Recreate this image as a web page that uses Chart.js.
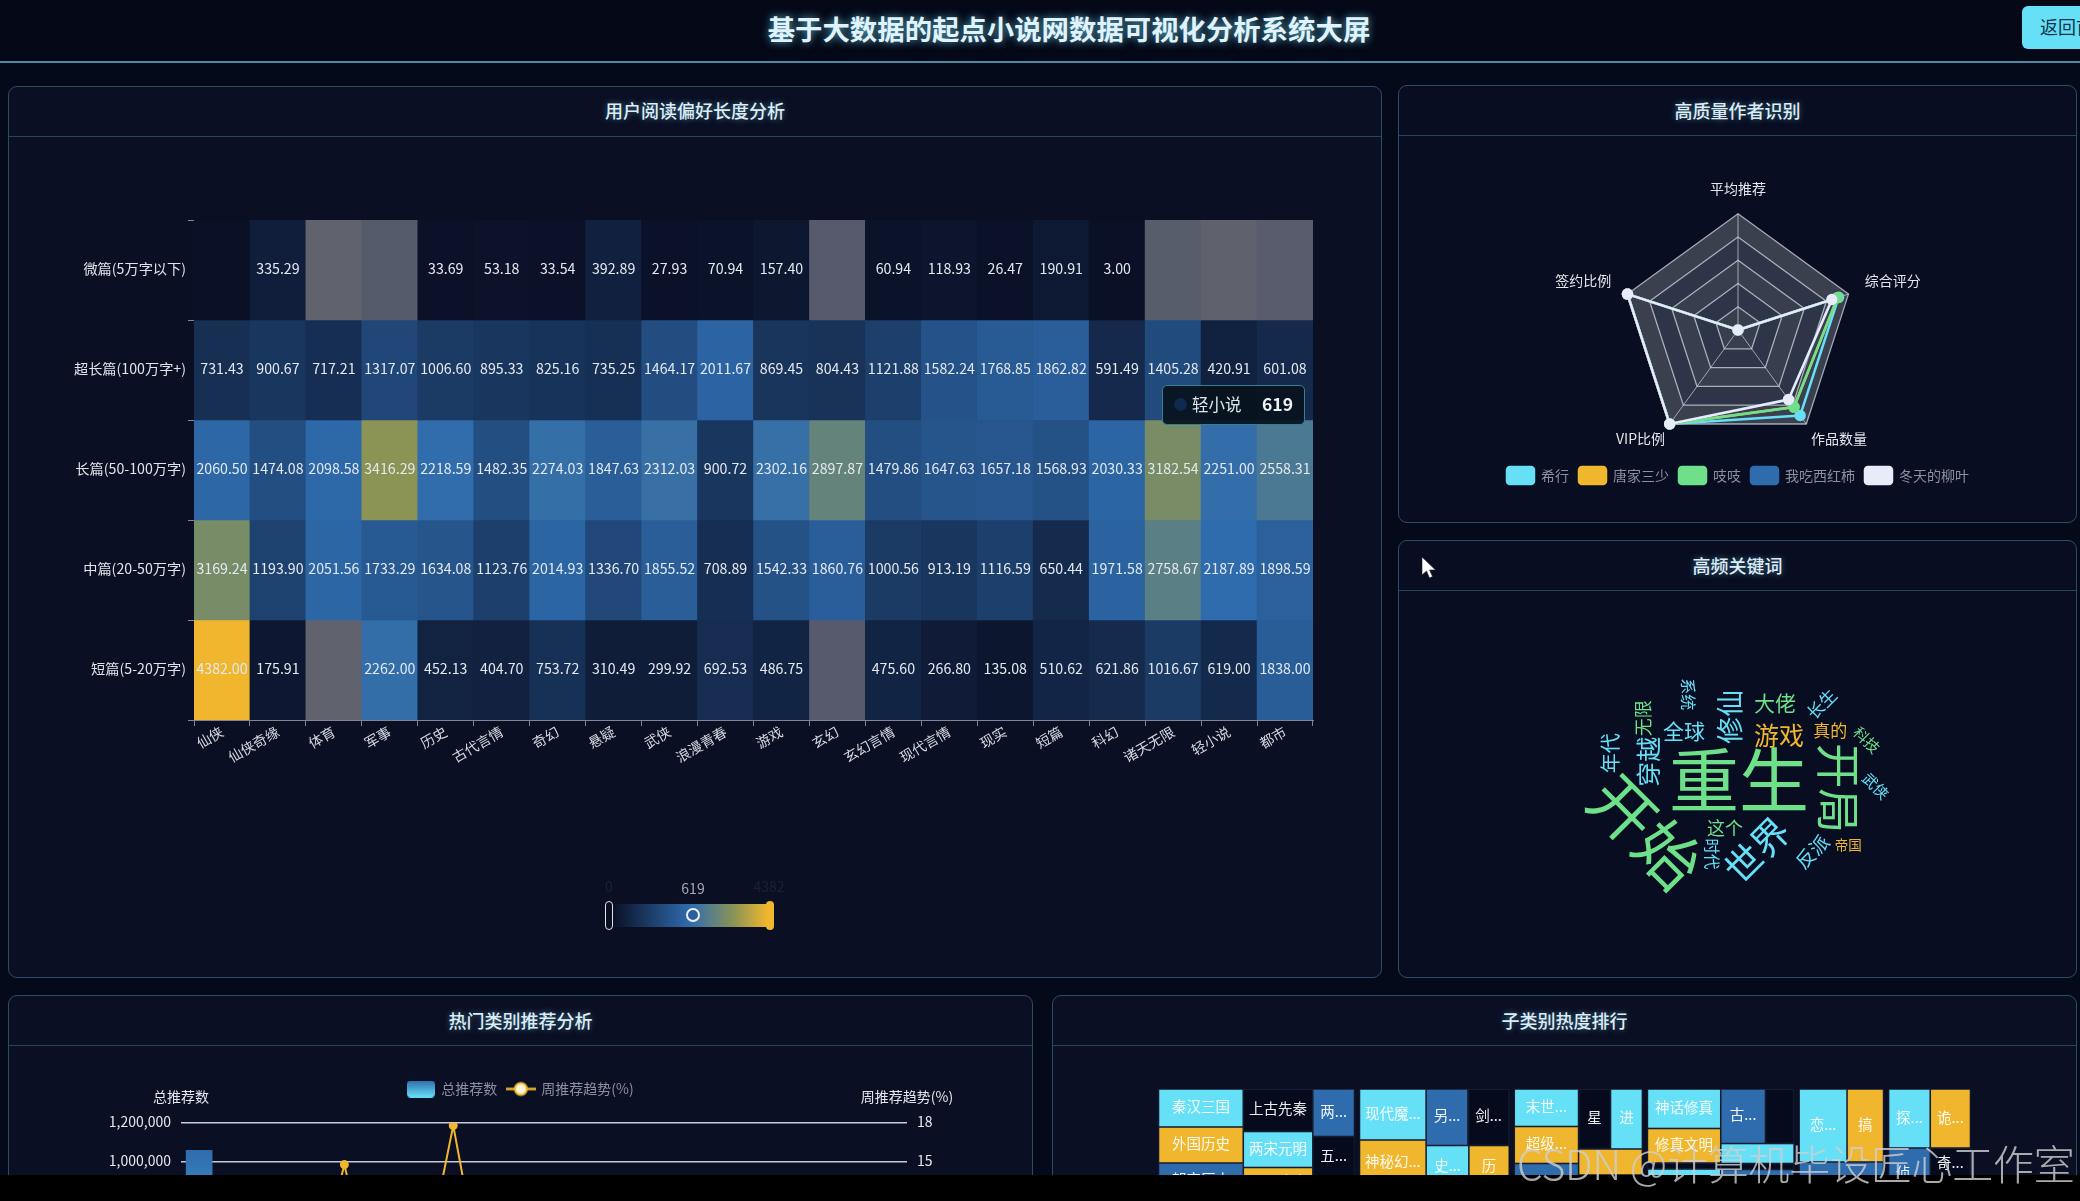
<!DOCTYPE html>
<html lang="zh-CN">
<head>
<meta charset="utf-8">
<title>基于大数据的起点小说网数据可视化分析系统大屏</title>
<script src="https://cdn.jsdelivr.net/npm/chart.js@4/dist/chart.umd.min.js"></script>
<style>
html,body{margin:0;padding:0;width:2080px;height:1201px;overflow:hidden;background:#050a1b;font-family:"Noto Sans CJK SC","Noto Sans",sans-serif;}
#stage{position:absolute;left:0;top:0;width:2080px;height:1201px;overflow:hidden;}
.abs{position:absolute;}
#header{left:0;top:0;width:2080px;background:#040817;border-bottom:2px solid #4f8aa0;box-sizing:border-box;height:63px;}
#mainTitle{left:0;top:3.5px;width:2138px;text-align:center;font-size:27.4px;line-height:48px;font-weight:700;color:#e0f3fc;text-shadow:0 0 9px rgba(110,215,240,.8);white-space:nowrap;}
#backBtn{left:2022px;top:6px;width:120px;height:43px;line-height:41px;background:#66e0f7;border-radius:6px;color:#12324a;font-size:18px;padding-left:18px;box-sizing:border-box;white-space:nowrap;}
.panel{position:absolute;box-sizing:border-box;background:#0a0f24;border:1.5px solid #2b4d62;border-radius:9px;}
.panel .ttl{position:absolute;left:0;right:0;text-align:center;font-size:18px;font-weight:500;color:#dcedf5;text-shadow:0 0 6px rgba(120,205,235,.5);line-height:49px;height:49px;border-bottom:1.5px solid #26455a;top:0;white-space:nowrap;}
canvas{position:absolute;display:block;}
#band{left:0;top:1175px;width:2080px;height:26px;background:#000;z-index:5;}
#mark{left:1517px;top:1137.5px;font-size:41px;line-height:48px;color:rgba(206,206,206,.82);white-space:nowrap;z-index:6;font-family:"Noto Sans CJK SC",sans-serif;font-weight:300;letter-spacing:-.25px;}
#tip{left:1162px;top:385px;width:143px;height:40px;box-sizing:border-box;background:rgba(8,18,30,.93);border:1.5px solid #35808f;border-radius:5px;z-index:4;}
#tip i{position:absolute;left:11px;top:12px;width:13px;height:13px;border-radius:50%;background:#10294f;}
#tip span{position:absolute;top:0;line-height:36px;font-size:16.5px;color:#dfe5ea;white-space:nowrap;}
#tip b{position:absolute;top:0;line-height:36px;font-size:17.5px;color:#eef2f5;right:11px;}
.vm{font-size:14px;line-height:18px;transform:translateX(-50%);white-space:nowrap;}
</style>
</head>
<body>
<div id="stage">
  <div id="header" class="abs"></div>
  <div id="mainTitle" class="abs">基于大数据的起点小说网数据可视化分析系统大屏</div>
  <div id="backBtn" class="abs">返回首页</div>

  <div class="panel" style="left:8px;top:86px;width:1374px;height:892px"><div class="ttl" style="line-height:47.5px">用户阅读偏好长度分析</div></div>
  <div class="panel" style="left:1398px;top:85px;width:679px;height:438px;background:#080d22"><div class="ttl">高质量作者识别</div></div>
  <div class="panel" style="left:1398px;top:540px;width:679px;height:438px;background:#080d22"><div class="ttl">高频关键词</div></div>
  <div class="panel" style="left:8px;top:995px;width:1025px;height:400px"><div class="ttl">热门类别推荐分析</div></div>
  <div class="panel" style="left:1052px;top:995px;width:1025px;height:400px"><div class="ttl">子类别热度排行</div></div>

  <canvas id="heat" style="left:8px;top:136px" width="1373" height="840"></canvas>
  <canvas id="radar" style="left:1400px;top:137px" width="676" height="385"></canvas>
  <canvas id="cloud" style="left:1400px;top:592px" width="676" height="384"></canvas>
  <canvas id="combo" style="left:8px;top:1046px" width="1025" height="374"></canvas>
  <canvas id="tree" style="left:1156px;top:1089px" width="817" height="110"></canvas>

  <div id="tip" class="abs"><i></i><span style="left:29px">轻小说</span><b>619</b></div>

  <!-- 视觉映射滑块 -->
  <div class="abs vm" style="left:609px;top:877px;color:rgba(255,255,255,.07)">0</div>
  <div class="abs vm" style="left:693px;top:879px;color:#a3a9b5">619</div>
  <div class="abs vm" style="left:769px;top:877px;color:rgba(255,255,255,.07)">4382</div>
  <div class="abs" id="vmBar" style="left:613px;top:904px;width:155px;height:23px"></div>
  <div class="abs" style="left:605px;top:901px;width:8px;height:29px;box-sizing:border-box;border:1.5px solid #dfe3ea;border-radius:4px;background:#0a0f24"></div>
  <div class="abs" style="left:766px;top:901px;width:8px;height:29px;border-radius:4px;background:#f0b72e"></div>
  <div class="abs" style="left:686px;top:908px;width:14px;height:14px;box-sizing:border-box;border:2.5px solid #eef2f6;border-radius:50%;background:#2a5f9c"></div>

  <!-- 鼠标指针 -->
  <svg class="abs" style="left:1421px;top:556px;z-index:4" width="18" height="24" viewBox="0 0 18 24"><path d="M1 1 L1 19 L5.5 15 L8.5 22 L11.5 20.6 L8.6 14 L14.5 14 Z" fill="#fff" stroke="#222" stroke-width=".6"/></svg>

  <div id="band" class="abs"></div>
  <div id="mark" class="abs">CSDN @计算机毕设匠心工作室</div>
</div>

<script>
/* ---------- 数据 ---------- */
const genres = ['仙侠','仙侠奇缘','体育','军事','历史','古代言情','奇幻','悬疑','武侠','浪漫青春','游戏','玄幻','玄幻言情','现代言情','现实','短篇','科幻','诸天无限','轻小说','都市'];
const lengthBands = ['微篇(5万字以下)','超长篇(100万字+)','长篇(50-100万字)','中篇(20-50万字)','短篇(5-20万字)'];
const microValues  = [0,335.29,null,null,33.69,53.18,33.54,392.89,27.93,70.94,157.40,null,60.94,118.93,26.47,190.91,3.00,null,null,null];
const epicValues   = [731.43,900.67,717.21,1317.07,1006.60,895.33,825.16,735.25,1464.17,2011.67,869.45,804.43,1121.88,1582.24,1768.85,1862.82,591.49,1405.28,420.91,601.08];
const longValues   = [2060.50,1474.08,2098.58,3416.29,2218.59,1482.35,2274.03,1847.63,2312.03,900.72,2302.16,2897.87,1479.86,1647.63,1657.18,1568.93,2030.33,3182.54,2251.00,2558.31];
const mediumValues = [3169.24,1193.90,2051.56,1733.29,1634.08,1123.76,2014.93,1336.70,1855.52,708.89,1542.33,1860.76,1000.56,913.19,1116.59,650.44,1971.58,2758.67,2187.89,1898.59];
const shortValues  = [4382.00,175.91,null,2262.00,452.13,404.70,753.72,310.49,299.92,692.53,486.75,null,475.60,266.80,135.08,510.62,621.86,1016.67,619.00,1838.00];
const heatRows = [microValues,epicValues,longValues,mediumValues,shortValues];
const heatMax = 4382;

const radarAxes = ['平均推荐','综合评分','作品数量','VIP比例','签约比例'];
const authors = ['希行','唐家三少','吱吱','我吃西红柿','冬天的柳叶'];
const xiXing   = [0,0.91,0.91,1,1];
const tangJia  = [0,0.90,0.82,1,1];
const ziZi     = [0,0.90,0.82,1,1];
const woChi    = [0,0.85,0.74,1,1];
const dongTian = [0,0.85,0.74,1,1];

const keywords = ['重生','开局','开始','世界','修仙','大佬','游戏','全球','真的','长生','系统','穿越','无限','年代','科技','武侠','这个','时代','反派','帝国'];
const keywordCounts = [700,450,640,370,270,210,250,210,170,170,160,250,180,200,150,150,180,155,190,135];

const totalRecommend = [1060000,905000,860000,790000,740000,700000,660000,620000,590000,540000,500000,470000,430000,390000,350000,310000,260000,210000,160000,110000];
const weeklyTrend    = [2.6,3.1,2.2,3.4,14.8,2.9,4.0,17.8,2.8,2.1,3.2,1.8,2.4,1.6,2.7,1.3,1.9,1.1,1.4,0.9];

const subNames  = ['秦汉三国','外国历史','架空历史','上古先秦','两宋元明','两晋隋唐','两...','五...','',
                   '现代魔...','神秘幻...','','另...','剑...','史...','历','',
                   '末世...','超级...','','星','进','','',
                   '神话修真','修真文明','','','古...','','','','',
                   '恋...','搞','',
                   '探...','诡...','侦...','奇...',''];
const subValues = [3287,3114,3114,3018,2556,2237,2019,1743,914,
                   3494,3151,891,2430,2401,1892,1785,898,
                   2494,2461,2361,1980,1980,1716,1584,
                   2982,2605,453,2265,2507,1608,1510,453,2227,
                   3687,2811,3293,
                   2596,2508,2244,1318,850];

/* ---------- 样式与布局 ---------- */
const FONT = '"Noto Sans CJK SC","Noto Sans",sans-serif';
const CYAN='#66e0f7', GOLD='#f0b72e', GREEN='#6fe08a', BLUE='#2f6cae', PALE='#e8ecf8', DARK='#050a1c';
const RAMP=[[0,[10,16,38]],[.5,[47,108,174]],[.78,[139,148,85]],[1,[240,183,46]]];
const GRAY_TONES={2:'#60636e',3:'#565b6c',11:'#565a6c',17:'#585d6c',18:'#5f616d',19:'#585c6c'};
Chart.defaults.animation=false;
Chart.defaults.font.family=FONT;
Chart.defaults.devicePixelRatio=1;
document.getElementById('vmBar').style.background='linear-gradient(90deg,'+RAMP.map(s=>`rgb(${s[1]}) ${s[0]*100}%`).join(',')+')';

function heatColor(v,col){
  if(v===null) return GRAY_TONES[col];
  const t=v/heatMax; let k=0; while(k<RAMP.length-2&&t>RAMP[k+1][0]) k++;
  const [t0,a]=RAMP[k],[t1,b]=RAMP[k+1],f=(t-t0)/(t1-t0);
  return `rgb(${a.map((c,i)=>Math.round(c+(b[i]-c)*f)).join(',')})`;
}

/* ---------- 热力图 ---------- */
const heatLabels={id:'heatLabels',afterDatasetsDraw(chart){
  const c=chart.ctx; c.save(); c.font='14.2px '+FONT; c.textAlign='center'; c.textBaseline='middle'; c.fillStyle='#e4e9f0';
  heatRows.forEach((row,r)=>{const m=chart.getDatasetMeta(r);
    row.forEach((v,i)=>{ if(!v) return; const p=m.data[i].getProps(['x','y','base'],true);
      c.fillText(v.toFixed(2),p.x,(p.y+p.base)/2-1.5); });});
  c.restore();
}};
new Chart(document.getElementById('heat'),{
  type:'bar',
  data:{labels:genres,datasets:heatRows.map((row,r)=>({
    label:lengthBands[r],data:row.map(()=>[r,r+1]),yAxisID:'y',grouped:false,
    barPercentage:1,categoryPercentage:1,borderWidth:0,borderSkipped:false,
    backgroundColor:ctx=>heatColor(row[ctx.dataIndex],ctx.dataIndex)
  }))},
  options:{responsive:false,
    layout:{autoPadding:false,padding:{left:0,right:68,top:84,bottom:0}},
    plugins:{legend:{display:false},tooltip:{enabled:false}},
    scales:{
      x:{type:'category',offset:true,grid:{offset:true,drawOnChartArea:false,tickLength:6,color:'#7d8597'},border:{color:'#7d8597'},
         ticks:{minRotation:30,maxRotation:30,autoSkip:false,color:'#d3d8e0',font:{size:14},padding:-3},
         afterFit(s){s.height=256;}},
      y:{type:'linear',min:0,max:5,reverse:true,display:false},
      yCat:{type:'category',labels:lengthBands,position:'left',offset:true,grid:{offset:true,drawOnChartArea:false,tickLength:6,color:'#7d8597'},border:{color:'#7d8597'},
         ticks:{color:'#dfe4ea',font:{size:14.2},padding:2,autoSkip:false,labelOffset:-1.5},
         afterFit(s){s.width=186;}}
    }},
  plugins:[heatLabels]
});

/* ---------- 雷达图 ---------- */
const radarBands={id:'radarBands',beforeDraw(chart){
  const s=chart.scales.r,c=chart.ctx,n=radarAxes.length;
  [[1,'#3b404f'],[.8,'#2e3548'],[.6,'#393e4e'],[.4,'#2e3548'],[.2,'#393e4e']].forEach(([v,col])=>{
    c.beginPath();
    for(let i=0;i<n;i++){const p=s.getPointPositionForValue(i,v); i?c.lineTo(p.x,p.y):c.moveTo(p.x,p.y);}
    c.closePath(); c.fillStyle=col; c.fill();
  });
}};
const authorSeries=[xiXing,tangJia,ziZi,woChi,dongTian];
const authorColors=[CYAN,GOLD,GREEN,BLUE,PALE];
const radarChart=new Chart(document.getElementById('radar'),{
  type:'radar',
  data:{labels:radarAxes,datasets:authors.map((a,i)=>({
    label:a,data:authorSeries[i],order:authors.length-i,
    borderColor:authorColors[i],backgroundColor:authorColors[i],pointBackgroundColor:authorColors[i],pointBorderColor:authorColors[i],
    borderWidth:2.5,pointRadius:4.5,fill:false
  }))},
  options:{responsive:false,
    layout:{padding:{top:27,bottom:21,left:0,right:0}},
    plugins:{tooltip:{enabled:false},legend:{position:'bottom',labels:{boxWidth:27,boxHeight:17,padding:10,color:'#8b90a0',font:{size:14},useBorderRadius:true,borderRadius:3,sort:(a,b)=>a.datasetIndex-b.datasetIndex}}},
    scales:{r:{min:0,max:1,beginAtZero:true,
      ticks:{display:false,stepSize:.2},
      grid:{circular:false,color:'rgba(215,220,232,.72)',lineWidth:1.3},
      angleLines:{color:'rgba(205,210,222,.7)',lineWidth:1},
      pointLabels:{color:'#e2e5ea',font:{size:14},padding:ctx=>(ctx.index===2||ctx.index===3)?8:17}}}},
  plugins:[radarBands]
});
{const lg=radarChart.legend,d=lg.draw; lg.draw=function(){const c=this.ctx;c.save();c.translate(0,-7);d.call(this);c.restore();}; radarChart.update('none');}

/* ---------- 词云（位置单独成表） ---------- */
const cloudPlacement=[[339,188.7,0,1],[438.3,196.3,90,1],[246,239.7,45,1],[356.7,258,-45,0],[330,124.7,-90,0],[375,111.3,0,1],[379,143,0,2],[284,138.7,0,0],[430.3,139,0,2],[421.7,112,-45,0],[288.3,102.3,90,0],[248.3,169.7,-90,0],[242.7,126.3,-90,1],[210.7,161.3,-90,0],[466.7,148,45,1],[475.7,194,45,0],[325,235.7,0,1],[311.7,262,90,0],[412.3,259.7,-45,0],[448.3,253,0,2]];
const cloudColors=[CYAN,GREEN,GOLD];
const cloudText={id:'cloudText',afterDatasetsDraw(chart){
  const c=chart.ctx,m=chart.getDatasetMeta(0);
  m.data.forEach((pt,i)=>{
    c.save(); c.translate(pt.x,pt.y); c.rotate(cloudPlacement[i][2]*Math.PI/180);
    c.font=(keywordCounts[i]/10)+'px '+FONT; c.textAlign='center'; c.textBaseline='middle';
    c.fillStyle=cloudColors[cloudPlacement[i][3]]; c.fillText(keywords[i],0,0); c.restore();
  });
}};
new Chart(document.getElementById('cloud'),{
  type:'scatter',
  data:{labels:keywords,datasets:[{data:cloudPlacement.map(p=>({x:p[0],y:p[1]})),pointRadius:0}]},
  options:{responsive:false,layout:{autoPadding:false,padding:0},plugins:{legend:{display:false},tooltip:{enabled:false}},
    scales:{x:{type:'linear',min:0,max:676,display:false},y:{type:'linear',min:0,max:384,reverse:true,display:false}}},
  plugins:[cloudText]
});

/* ---------- 柱线组合 ---------- */
function swatch(w,h,draw){const k=document.createElement('canvas');k.width=w;k.height=h;draw(k.getContext('2d'));return k;}
const barIcon=swatch(28,17,x=>{const g=x.createLinearGradient(0,0,0,17);g.addColorStop(0,BLUE);g.addColorStop(1,CYAN);x.fillStyle=g;x.beginPath();x.roundRect(0,0,28,17,4);x.fill();});
const lineIcon=swatch(30,17,x=>{x.strokeStyle=GOLD;x.lineWidth=2.5;x.beginPath();x.moveTo(0,8.5);x.lineTo(30,8.5);x.stroke();x.beginPath();x.arc(15,8.5,6,0,7);x.fillStyle='#fff6da';x.fill();x.lineWidth=2;x.stroke();});
const axisNames={id:'axisNames',afterDraw(chart){
  const c=chart.ctx,a=chart.chartArea; c.save(); c.font='14px '+FONT; c.fillStyle='#e4e7ec'; c.textAlign='center'; c.textBaseline='middle';
  c.fillText('总推荐数',a.left,a.top-26.5); c.fillText('周推荐趋势(%)',a.right,a.top-26.5); c.restore();
}};
const combo=new Chart(document.getElementById('combo'),{
  type:'bar',
  data:{labels:genres,datasets:[
    {label:'总推荐数',data:totalRecommend,yAxisID:'y',order:2,barThickness:26,pointStyle:barIcon,
     backgroundColor(ctx){const ch=ctx.chart,s=ch.scales.y; if(!s) return BLUE; const g=ch.ctx.createLinearGradient(0,s.getPixelForValue(1060000),0,s.getPixelForValue(0));g.addColorStop(0,BLUE);g.addColorStop(1,CYAN);return g;}},
    {type:'line',label:'周推荐趋势(%)',data:weeklyTrend,yAxisID:'y1',order:1,borderColor:GOLD,borderWidth:2,tension:0,pointRadius:3.5,pointBackgroundColor:GOLD,pointBorderColor:GOLD,pointStyle:'circle',fill:false}
  ]},
  options:{responsive:false,
    layout:{autoPadding:false,padding:{top:26,left:0,right:0,bottom:0}},
    plugins:{tooltip:{enabled:false},legend:{position:'top',labels:{color:'#8b90a0',font:{size:14},padding:10,usePointStyle:true,pointStyleWidth:27,boxHeight:14,
      generateLabels(){return [
        {text:'总推荐数',pointStyle:barIcon,fontColor:'#8b90a0',lineWidth:0,datasetIndex:0},
        {text:'周推荐趋势(%)',pointStyle:lineIcon,fontColor:'#8b90a0',lineWidth:0,datasetIndex:1}];}}}},
    scales:{
      x:{grid:{display:false},border:{color:'#c9cfdc'},ticks:{color:'#cfd4dc',autoSkip:false,minRotation:30,maxRotation:30,font:{size:14}},afterFit(s){s.height=63;}},
      y:{position:'left',min:0,max:1200000,ticks:{stepSize:200000,color:'#e4e7ec',font:{size:14},padding:10,labelOffset:-1.5,callback:v=>v.toLocaleString('en-US')},
         grid:{color:'#c5cbd9',lineWidth:1.6,drawTicks:false},border:{display:false},afterFit(s){s.width=173;}},
      y1:{position:'right',min:0,max:18,ticks:{stepSize:3,color:'#e4e7ec',font:{size:14},padding:10,labelOffset:-1.5},grid:{display:false,drawTicks:false},border:{display:false},afterFit(s){s.width=126;}}
    }},
  plugins:[axisNames]
});
{const f=combo.legend.fit; combo.legend.fit=function(){f.call(this); this.height=51;}; combo.update('none');}

/* ---------- 矩形树图 ---------- */
const subColorIdx=[0,1,2,3,0,1,2,3,1, 0,1,2,2,3,0,1,1, 0,1,2,3,0,1,3, 0,1,3,0,2,3,0,3,2, 0,1,2, 0,1,2,3,1];
const subPalette=[CYAN,GOLD,BLUE,DARK];
const subTree=['h',
  ['h',['v',0,1,2],['v',3,4,5],['v',6,7,8]],
  ['h',['v',9,10,11],['v',['h',12,13],['h',14,15],16]],
  ['h',['v',17,18,19],['v',['h',20,21],22,23]],
  ['h',['v',24,25,26,27],['v',['h',28,29],30,31,32]],
  ['v',['h',33,34],35],
  ['v',['h',36,37],['h',38,['v',39,40]]]
];
function nodeSize(n){return typeof n==='number'?subValues[n]:n.slice(1).reduce((a,c)=>a+nodeSize(c),0);}
function layoutNode(n,x,y,w,h,out){
  if(typeof n==='number'){out[n]={x,y,w,h};return;}
  const total=nodeSize(n); let pos=0;
  n.slice(1).forEach(c=>{const f=nodeSize(c)/total;
    if(n[0]==='h'){layoutNode(c,x+pos*w,y,f*w,h,out);} else {layoutNode(c,x,y+pos*h,w,f*h,out);}
    pos+=f;});
}
const subBoxes=[];
(function(){
  const total=nodeSize(subTree),W=817,H=110; let pos=0;
  subTree.slice(1).forEach(g=>{const f=nodeSize(g)/total; layoutNode(g,pos*W+2.5,0,f*W-5,H,subBoxes); pos+=f;});
})();
const treeCells={id:'treeCells',afterDatasetsDraw(chart){
  const c=chart.ctx,sx=chart.scales.x,sy=chart.scales.y; c.save();
  subBoxes.forEach((b,i)=>{
    const x0=sx.getPixelForValue(b.x),x1=sx.getPixelForValue(b.x+b.w),y0=sy.getPixelForValue(b.y),y1=sy.getPixelForValue(b.y+b.h);
    c.fillStyle='#1c2236'; c.fillRect(x0,y0,x1-x0,y1-y0);
    c.fillStyle=subPalette[subColorIdx[i]]; c.fillRect(x0+.8,y0+.8,x1-x0-1.6,y1-y0-1.6);
    if(subNames[i]){c.font='14.5px '+FONT;c.textAlign='center';c.textBaseline='middle';c.fillStyle='rgba(255,255,255,.92)';c.fillText(subNames[i],(x0+x1)/2,(y0+y1)/2-1.5);}
  });
  c.restore();
}};
new Chart(document.getElementById('tree'),{
  type:'scatter',
  data:{labels:subNames,datasets:[{data:subBoxes.map((b,i)=>({x:b.x+b.w/2,y:b.y+b.h/2,v:subValues[i]})),pointRadius:0}]},
  options:{responsive:false,layout:{autoPadding:false,padding:0},plugins:{legend:{display:false},tooltip:{enabled:false}},
    scales:{x:{type:'linear',min:0,max:817,display:false},y:{type:'linear',min:0,max:110,reverse:true,display:false}}},
  plugins:[treeCells]
});
</script>
</body>
</html>
